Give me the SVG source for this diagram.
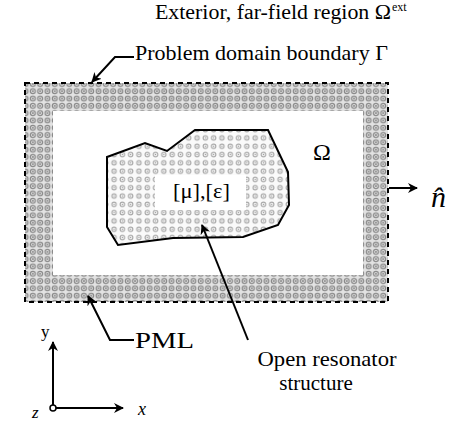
<svg xmlns="http://www.w3.org/2000/svg" width="474" height="448" viewBox="0 0 474 448">
<style>
.t{font-family:"Liberation Serif","Times New Roman",serif;fill:#000}
.ln{stroke:#000;stroke-width:2;fill:none}
</style>
<defs>
<pattern id="pml" patternUnits="userSpaceOnUse" width="7.3" height="7.3">
<rect width="7.3" height="7.3" fill="#e2e2e2"/>
<circle cx="3.65" cy="3.65" r="2.4" fill="none" stroke="#888" stroke-width="1.2"/>
<circle cx="3.65" cy="3.65" r="0.8" fill="#777"/>
</pattern>
<pattern id="res" patternUnits="userSpaceOnUse" width="8.3" height="8.3" x="2" y="1">
<rect width="8.3" height="8.3" fill="#fafafa"/>
<circle cx="4.15" cy="4.15" r="2.2" fill="none" stroke="#a8a8a8" stroke-width="1.1"/>
<circle cx="4.15" cy="4.15" r="0.7" fill="#999"/>
</pattern>
<marker id="ah" viewBox="0 0 10 10" refX="9" refY="5" markerWidth="10" markerHeight="10" markerUnits="userSpaceOnUse" orient="auto">
<path d="M0,0 L10,5 L0,10 L3,5 z" fill="#000"/>
</marker>
</defs>

<g id="pml-region">
<path d="M25,83 H388 V302 H25 Z M53,111 V275 H363 V111 Z" fill="url(#pml)" fill-rule="evenodd"/>
<rect x="25" y="83" width="363" height="219" fill="none" stroke="#000" stroke-width="2" stroke-dasharray="5 4"/>
</g>

<g id="resonator">
<polygon points="107,157 145,143 167,151 195,130 268,130 288,172 289,205 278,225 243,237 173,238 118,245 107,227" fill="url(#res)" stroke="#000" stroke-width="2" stroke-linejoin="miter"/>
<rect x="155" y="175" width="91" height="35" fill="#fff"/>
<text class="t" x="173" y="198" font-size="20" textLength="57" lengthAdjust="spacingAndGlyphs">[μ],[ε]</text>
</g>

<g id="labels">
<text class="t" x="155" y="19" font-size="20" textLength="236" lengthAdjust="spacingAndGlyphs">Exterior, far-field region Ω</text>
<text class="t" x="392" y="11" font-size="12">ext</text>
<text class="t" x="135" y="60" font-size="22">Problem domain boundary Γ</text>
<text class="t" x="322" y="160" font-size="24" text-anchor="middle">Ω</text>
<text class="t" x="431" y="207" font-size="30" font-style="italic">n̂</text>
<text class="t" x="135" y="348" font-size="24" textLength="59" lengthAdjust="spacingAndGlyphs">PML</text>
<text class="t" x="327" y="366" font-size="21" text-anchor="middle" textLength="139" lengthAdjust="spacingAndGlyphs">Open resonator</text>
<text class="t" x="316" y="390" font-size="21" text-anchor="middle">structure</text>
<text class="t" x="41" y="337" font-size="17">y</text>
<text class="t" x="32" y="418" font-size="17" font-style="italic">z</text>
<text class="t" x="138" y="415" font-size="18" font-style="italic">x</text>
</g>

<g id="connectors">
<polyline class="ln" points="134,57 115,57 92,82" marker-end="url(#ah)"/>
<line class="ln" x1="389" y1="188" x2="417" y2="188" marker-end="url(#ah)"/>
<polyline class="ln" points="134,340 110,340 88,296" marker-end="url(#ah)"/>
<line class="ln" x1="248" y1="340" x2="202" y2="225" marker-end="url(#ah)"/>
<line class="ln" x1="53" y1="405" x2="53" y2="342" marker-end="url(#ah)"/>
<line class="ln" x1="56" y1="408" x2="123" y2="408" marker-end="url(#ah)"/>
<circle cx="53" cy="408" r="3" fill="#fff" stroke="#000" stroke-width="1.5"/>
</g>
</svg>
